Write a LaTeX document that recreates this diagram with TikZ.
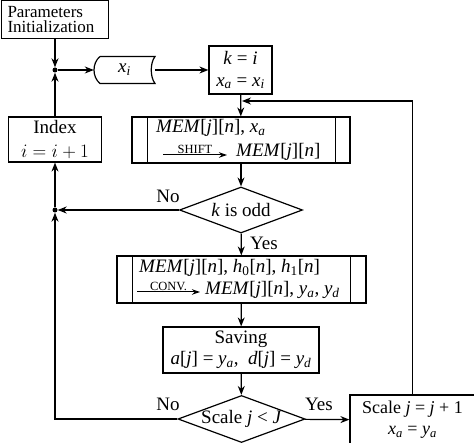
\RequirePackage{fix-cm}
\documentclass[tikz,border=0pt]{standalone}
\usepackage{fontspec}
\setmainfont{Liberation Serif}
\usetikzlibrary{arrows.meta,shapes.geometric}
\newcommand{\iv}[1]{\textit{#1}}
\newcommand{\isb}[2]{\textit{#1}\textsubscript{#2}}
\tikzset{
  box/.style={draw, line width=1.2pt, inner sep=0pt, align=center},
  decision/.style={draw, diamond, line width=1.2pt, inner sep=0pt, aspect=2.7},
  dot/.style={circle, fill, inner sep=0pt, minimum size=5pt},
  flow/.style={line width=1.2pt, -{Stealth[length=9pt,width=7pt]}},
  thinflow/.style={line width=1pt, -{Stealth[length=8pt,width=5.5pt]}},
  line/.style={line width=1.2pt},
  tag/.style={font=\fontsize{12.5}{13}\selectfont, inner sep=1pt}
}

\begin{document}
\begin{tikzpicture}[x=1pt, y=-1pt, font=\fontsize{19}{22}\selectfont]
    \useasboundingbox (0,0) rectangle (474,443);

    \node[box, minimum width=107, minimum height=38, text width=95, align=left, font=\fontsize{17}{15.5}\selectfont] (params) at (55,19.5) {Parameters\\Initialization};
    \node[dot] (j1) at (55,70) {};
    \draw[flow] (params) -- (j1);

    \node[minimum width=61, minimum height=27, inner sep=0pt] (xi) at (124.5,70) {\isb{x}{\iv{i}}};
    \draw[line] (100,56.5) -- (155,56.5) .. controls (150,63) and (150,77) .. (155,83.5) -- (100,83.5) .. controls (92,77) and (92,63) .. (100,56.5);
    \draw[flow] (j1) -- (xi);

    \node[box, minimum width=63, minimum height=48] (kbox) at (240.5,70) {\iv{k} = \iv{i}\\[0pt]\isb{x}{\iv{a}} = \isb{x}{\iv{i}}};
    \draw[flow] (xi) -- (kbox);

    \node[box, minimum width=218, minimum height=46] (shift) at (241,140) {};
    \draw[line] ([xshift=16pt]shift.north west) -- ([xshift=16pt]shift.south west);
    \draw[line] ([xshift=-15pt]shift.north east) -- ([xshift=-15pt]shift.south east);
    \node[anchor=west, inner sep=0pt] (shiftin) at (156,128) {\iv{MEM}[\iv{j}][\iv{n}], \isb{x}{\iv{a}}};
    \coordinate (sa) at (163,155);
    \coordinate (sb) at (227,155);
    \draw[thinflow] (sa) -- (sb) node[tag, midway, above] (lblshift) {SHIFT};
    \node[anchor=west, inner sep=0pt] (shiftout) at (236,152) {\iv{MEM}[\iv{j}][\iv{n}]};
    \draw[flow] (kbox) -- (shift);

    \node[decision, minimum width=123, minimum height=46] (kodd) at (241,210) {\iv{k} is odd};
    \draw[flow] (shift) -- (kodd);
    \node[dot] (j2) at (55,210) {};
    \draw[flow] (kodd) -- (j2);
    \node (lblno1) at (168,196) {No};

    \node[box, minimum width=93, minimum height=45] (index) at (55,139.5) {Index\\[2pt]$i=i+1$};
    \draw[flow] (j2) -- (index);
    \draw[flow] (index) -- (j1);

    \node[box, minimum width=249, minimum height=47] (conv) at (241.5,279.5) {};
    \draw[line] ([xshift=16pt]conv.north west) -- ([xshift=16pt]conv.south west);
    \draw[line] ([xshift=-16pt]conv.north east) -- ([xshift=-16pt]conv.south east);
    \node[anchor=west, inner sep=0pt] (convin) at (139,268) {\iv{MEM}[\iv{j}][\iv{n}], \isb{h}{0}[\iv{n}], \isb{h}{1}[\iv{n}]};
    \coordinate (ca) at (137,292);
    \coordinate (cb) at (200,292);
    \draw[thinflow] (ca) -- (cb) node[tag, midway, above] (lblconv) {CONV.};
    \node[anchor=west, inner sep=0pt] (convout) at (205,290) {\iv{MEM}[\iv{j}][\iv{n}], \isb{y}{\iv{a}}, \isb{y}{\iv{d}}};
    \draw[flow] (kodd) -- (conv);
    \node (lblyes1) at (264,243) {Yes};

    \node[box, minimum width=156, minimum height=46] (save) at (241,350) {Saving\\[-1pt]\iv{a}[\iv{j}] = \isb{y}{\iv{a}},\ \ \iv{d}[\iv{j}] = \isb{y}{\iv{d}}};
    \draw[flow] (conv) -- (save);

    \node[decision, minimum width=123, minimum height=44] (scaledia) at (241.5,419) {Scale \iv{j} < \iv{J}};
    \draw[flow] (save) -- (scaledia);
    \node (lblno2) at (168,404) {No};
    \node (lblyes2) at (319,404) {Yes};
    \draw[flow] (scaledia.west) -| (j2);

    \node[box, minimum width=125, minimum height=50, font=\fontsize{18}{22}\selectfont] (scalebox) at (412.5,420) {Scale \iv{j} = \iv{j} + 1\\[-1pt]\isb{x}{\iv{a}} = \isb{y}{\iv{a}}};
    \draw[flow] (scaledia) -- (scalebox);
    \coordinate (m1) at (242,101);
    \draw[flow] (scalebox.north) |- (m1);
\end{tikzpicture}
\end{document}
